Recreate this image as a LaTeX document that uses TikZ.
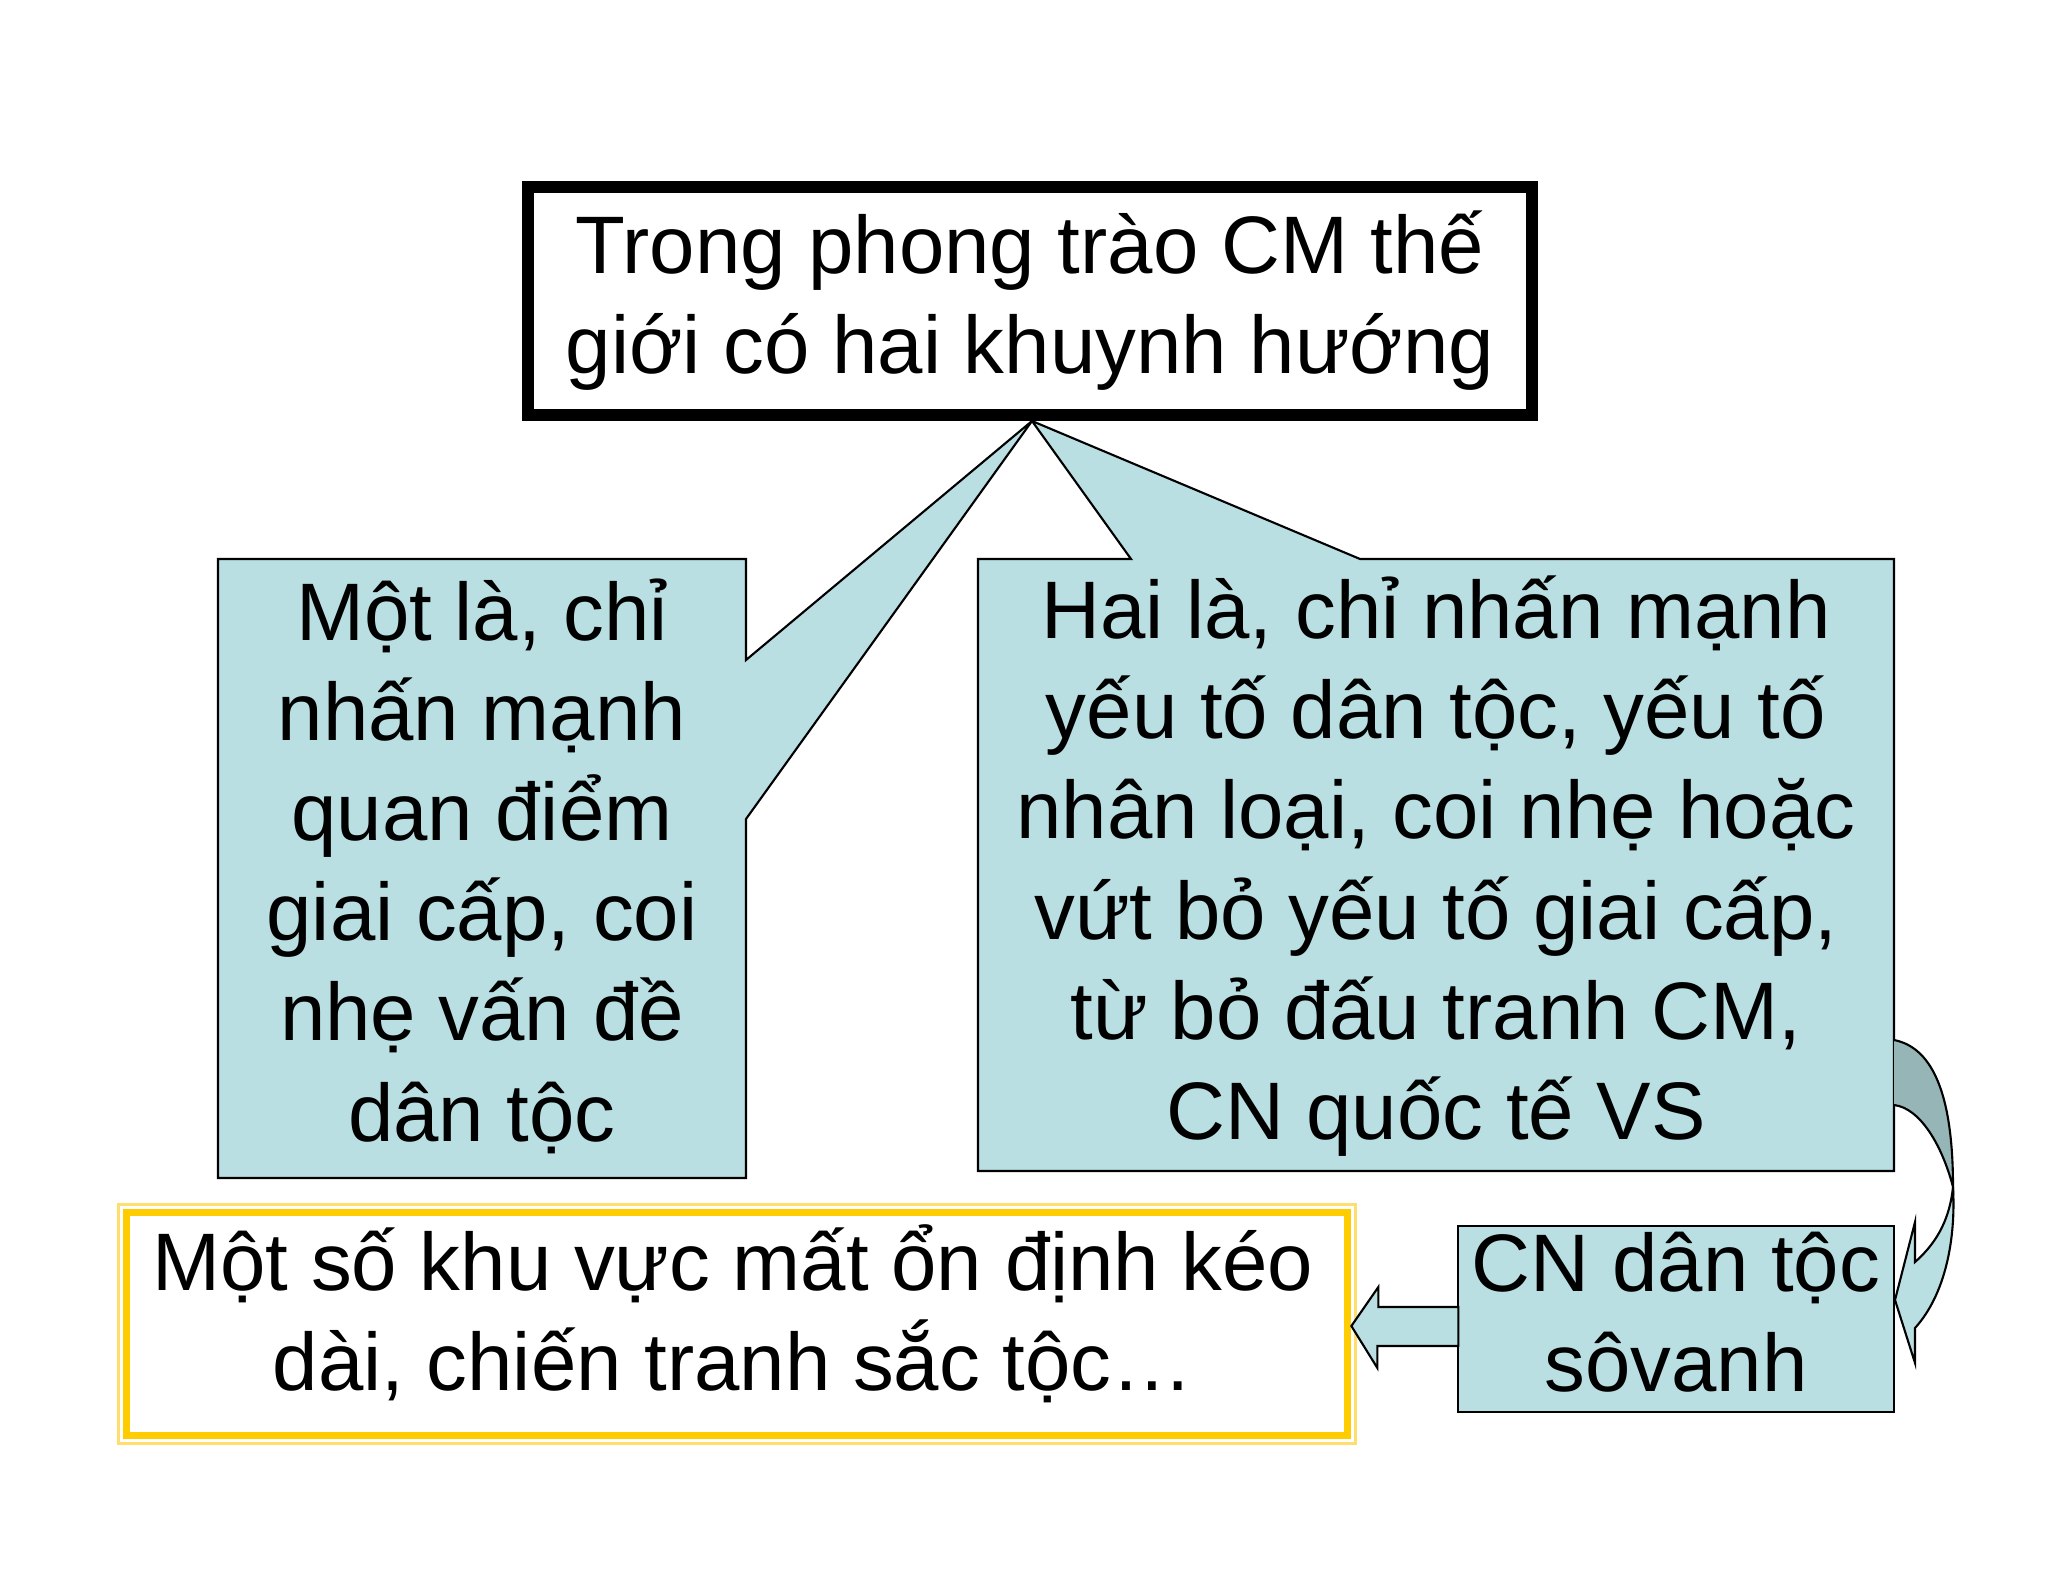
\documentclass[tikz,border=0pt]{standalone}
\usepackage{fontspec}
\setmainfont{Liberation Sans}
\usetikzlibrary{calc}

\definecolor{calloutblue}{RGB}{185,223,226}
\definecolor{arrowdark}{RGB}{150,181,183}
\definecolor{framegold}{RGB}{255,204,0}
\definecolor{framelight}{RGB}{255,222,110}

\tikzset{
  txt/.style={align=center, font=\fontsize{23.2}{28.5}\selectfont, inner sep=0pt},
  callout/.style={fill=calloutblue, draw=black, line width=0.6pt},
  topbox/.style={txt, draw=black, fill=white, line width=3.4pt, outer sep=0pt,
    minimum width=10.04cm, minimum height=2.28cm},
  cnbox/.style={draw=black, fill=calloutblue, line width=0.6pt, outer sep=0pt,
    minimum width=4.35cm, minimum height=1.86cm},
  effectbox/.style={draw=framegold, fill=white, line width=2pt, outer sep=0pt,
    minimum width=12.2cm, minimum height=2.23cm},
  blockarrow/.style={fill=calloutblue, draw=black, line width=0.6pt},
}

\begin{document}
\begin{tikzpicture}[x=0.01cm,y=-0.01cm]
        \useasboundingbox[fill=white] (0,0) rectangle (2048,1582);

        \coordinate (apex) at (1032,421);
        \draw[callout] (218,559) -- (746,559) -- (746,660) -- (apex)
          -- (746,819) -- (746,1178) -- (218,1178) -- cycle;
        \draw[callout] (978,559) -- (1131,559) -- (apex) -- (1360,559)
          -- (1894,559) -- (1894,1171) -- (978,1171) -- cycle;

        \node[topbox] (top) at (1030,301) {Trong phong trào CM thế\\giới có hai khuynh hướng};
        \node[txt] (one) at (482,866) {Một là, chỉ\\nhấn mạnh\\quan điểm\\giai cấp, coi\\nhẹ vấn đề\\dân tộc};
        \node[txt] (two) at (1436,866) {Hai là, chỉ nhấn mạnh\\yếu tố dân tộc, yếu tố\\nhân loại, coi nhẹ hoặc\\vứt bỏ yếu tố giai cấp,\\từ bỏ đấu tranh CM,\\CN quốc tế VS};

        \node[cnbox] (cn) at (1676,1319) {};
        \node[txt] (cntext) at (1676,1312) {CN dân tộc\\sôvanh};
        \node[effectbox] (effect) at (737,1324) {};
        \node[txt] (effecttext) at (733,1314) {Một số khu vực mất ổn định kéo\\dài, chiến tranh sắc tộc…};
        \draw[framelight, line width=0.7pt] ($(effect.north west)+(-8,-8)$) rectangle ($(effect.south east)+(8,8)$);

        % curved arrow from the second callout to cn
        \coordinate (bend) at (1953,1187);
        \draw[blockarrow] (bend) .. controls (1956,1240) and (1945,1295) .. (1915,1328)
          -- (1915,1363) -- (1895,1300) -- (1915,1222) -- (1915,1262)
          .. controls (1940,1240) and (1950,1215) .. (bend) -- cycle;
        \draw[blockarrow, fill=arrowdark] (1894,1040) .. controls (1935,1048) and (1953,1100) .. (bend)
          .. controls (1942,1145) and (1920,1108) .. (1894,1105);

        \draw[blockarrow] ($(effect.east)+(4,2)$) -- ++(27,-39) -- ++(0,20) -- ($(cn.west)+(0,-12)$)
          -- ($(cn.west)+(0,27)$) -- ++(-81,0) -- ++(0,22) -- cycle;
\end{tikzpicture}
\end{document}
